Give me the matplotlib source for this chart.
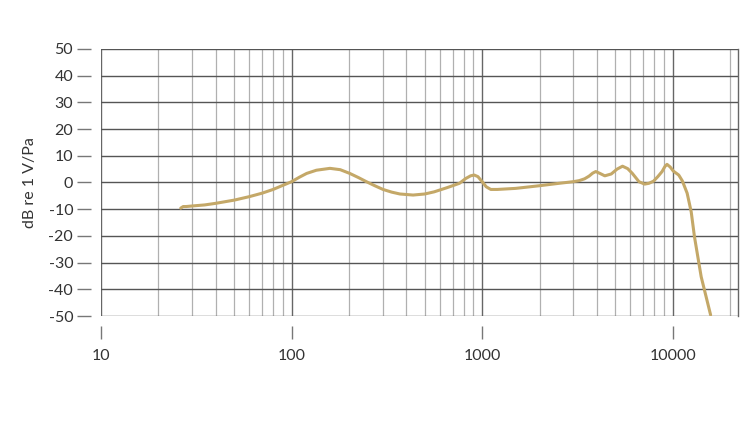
import matplotlib
matplotlib.use("Agg")
import matplotlib.pyplot as plt
from matplotlib.ticker import FixedLocator, NullFormatter

freq_hz = [26.2, 27, 28, 30, 35, 40, 50, 60, 70, 80, 87, 100, 110, 120, 135, 159, 180, 202,
           225, 247, 275, 302, 335, 370, 434, 500, 560, 600, 650, 700, 760, 820, 870, 908, 950, 1000,
           1050, 1110, 1200, 1500, 2000, 2535, 3000, 3230, 3450, 3640, 3800, 3945, 4150, 4400,
           4760, 5100, 5450, 5800, 6140, 6650, 7120, 7500, 7930, 8350, 8790, 9100, 9330, 9700,
           10060, 10750, 11230, 11900, 12500, 13000, 14100, 15800]
level_db = [-9.6, -9.0, -9.0, -8.8, -8.4, -7.8, -6.6, -5.3, -4.0, -2.6, -1.5, 0.3, 2.0, 3.4, 4.6, 5.3, 4.8, 3.4,
            1.8, 0.3, -1.3, -2.6, -3.6, -4.3, -4.7, -4.3, -3.5, -2.8, -2.0, -1.2, -0.3, 1.5, 2.5, 2.8, 2.2, 0.3,
            -1.6, -2.6, -2.6, -2.2, -1.2, -0.3, 0.3, 0.7, 1.4, 2.4, 3.5, 4.1, 3.4, 2.5,
            3.2, 5.0, 6.1, 5.2, 3.4, 0.3, -0.6, -0.3, 0.5, 2.2, 4.1, 6.0, 6.8, 5.8,
            4.3, 2.8, 0.6, -4.0, -11.0, -20.3, -35.3, -49.6]

x_major = [10, 100, 1000, 10000]
x_major_labels = ["10", "100", "1000", "10000"]
y_ticks = list(range(-50, 51, 10))
y_label = "dB re 1 V/Pa"

plt.rcParams['font.family'] = ['Lato', 'DejaVu Sans']

fig = plt.figure(figsize=(7.5, 4.22), dpi=100)
ax = fig.add_axes([101/750, 1 - 316/422, (738 - 101)/750, (316 - 49)/422])

ax.set_xscale('log')
ax.set_xlim(10, 22000)
ax.set_ylim(-50, 50)

minor = [m * d for d in [10, 100, 1000, 10000] for m in range(2, 10) if m * d < 22000]
ax.xaxis.set_major_locator(FixedLocator(x_major))
ax.set_xticklabels(x_major_labels)
ax.xaxis.set_minor_locator(FixedLocator(minor))
ax.xaxis.set_minor_formatter(NullFormatter())
ax.set_yticks(y_ticks)
ax.set_yticklabels([str(v) for v in y_ticks])

# grid
ax.grid(which='major', axis='x', color='#666666', linewidth=1.0)
ax.grid(which='minor', axis='x', color='#b0b0b0', linewidth=0.9)
ax.grid(which='major', axis='y', color='#555555', linewidth=1.0)
ax.set_axisbelow(True)

for s in ['left', 'top', 'bottom']:
    ax.spines[s].set_visible(False)
ax.spines['right'].set_color('#666666')
ax.spines['right'].set_linewidth(1.0)
ax.spines['left'].set_position(('outward', 7))
ax.spines['bottom'].set_position(('outward', 7))

ax.tick_params(axis='y', which='major', length=10, width=1, color='#777777',
               labelsize=11.5, labelcolor='#333333', pad=3)
ax.tick_params(axis='x', which='major', length=9, width=1, color='#777777',
               labelsize=11.5, labelcolor='#333333', pad=8)
ax.tick_params(axis='x', which='minor', length=0)

ax.plot(freq_hz, level_db, color='#c4a868', linewidth=2.2, solid_capstyle='round',
        solid_joinstyle='round', clip_on=True, zorder=3)

ax.set_ylabel(y_label, fontsize=11.5, color='#333333', labelpad=8)

fig.savefig("out.png", dpi=100)
